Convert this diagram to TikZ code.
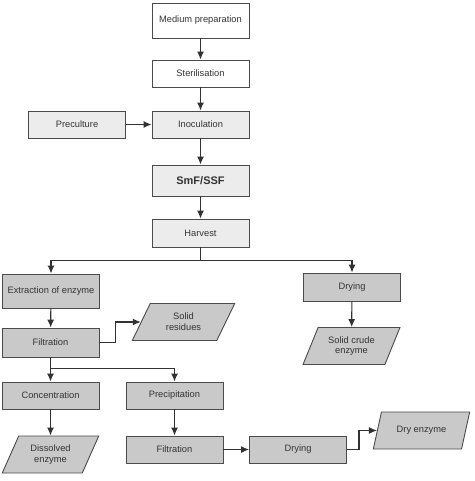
\documentclass[tikz,border=0pt]{standalone}
\usepackage{fontspec}
\setmainfont{Liberation Sans}
\usetikzlibrary{shapes.geometric,arrows.meta}
\definecolor{lightfill}{RGB}{236,236,236}
\definecolor{darkfill}{RGB}{201,201,201}
\definecolor{edgegray}{RGB}{50,50,50}
\definecolor{boxgray}{RGB}{75,75,75}
\tikzset{
  box/.style={draw=boxgray, line width=0.9pt, minimum width=97pt, minimum height=27pt,
    inner sep=1pt, align=center, text=black!80, font=\fontsize{9.3}{10.8}\selectfont},
  plainbox/.style={box, fill=white},
  lightbox/.style={box, fill=lightfill},
  darkbox/.style={box, fill=darkfill},
  databox/.style={box, fill=darkfill, trapezium, trapezium left angle=63,
    trapezium right angle=117, trapezium stretches=true, minimum height=37pt},
  arr/.style={draw=edgegray, line width=1.1pt, -{Latex[length=8pt,width=7pt]}}
}
\begin{document}
\begin{tikzpicture}[x=1pt,y=-1pt]
\useasboundingbox (0,0) rectangle (474,481);
% main column
\node[plainbox, minimum height=35pt] (medium) at (200.5,20.5) {Medium preparation};
\node[plainbox] (steril) at (200.5,73.5) {Sterilisation};
\node[lightbox] (inocul) at (200.5,124.5) {Inoculation};
\node[lightbox] (precult) at (77,124.5) {Preculture};
\node[lightbox, minimum height=31pt, font=\fontsize{11}{13}\selectfont\bfseries] (smf) at (200.5,180.5) {SmF/SSF};
\node[lightbox, minimum height=28pt] (harvest) at (200.5,233) {Harvest};
% left branch
\node[darkbox, minimum height=34pt] (extract) at (51,291) {Extraction of enzyme};
\node[darkbox, minimum height=29pt] (filtA) at (50.5,342.5) {Filtration};
\node[databox, minimum width=103pt] (residues) at (183.5,322) {Solid\\residues};
\node[darkbox] (concent) at (50.5,395.5) {Concentration};
\node[darkbox] (precip) at (174.5,395.5) {Precipitation};
\node[databox] (dissolved) at (50.5,454.5) {Dissolved\\enzyme};
\node[darkbox] (filtB) at (174.5,449.5) {Filtration};
\node[darkbox] (dryB) at (298,449.5) {Drying};
\node[databox] (dryenz) at (421.5,430.5) {Dry enzyme};
% right branch
\node[darkbox, minimum height=28pt] (dryA) at (352,287) {Drying};
\node[databox] (crude) at (351.5,346) {Solid crude\\enzyme};
% connectors
\draw[arr] (medium) -- (steril);
\draw[arr] (steril) -- (inocul);
\draw[arr] (precult) -- (inocul);
\draw[arr] (inocul) -- (smf);
\draw[arr] (smf) -- (harvest);
\draw[arr] (harvest.south) -- ++(0,13) -| (extract.north);
\draw[arr] (harvest.south) -- ++(0,13) -| (dryA.north);
\draw[arr] (extract) -- (filtA);
\draw[arr] (filtA.east) -- ++(16,0) |- (residues.west);
\draw[arr] (filtA.south) -- ++(0,11) -| (concent.north);
\draw[arr] (filtA.south) -- ++(0,11) -| (precip.north);
\draw[arr] (concent) -- (dissolved);
\draw[arr] (precip) -- (filtB);
\draw[arr] (filtB) -- (dryB);
\draw[arr] (dryB.east) -- ++(12,0) |- (dryenz.west);
\draw[arr] (dryA) -- (crude);
\end{tikzpicture}
\end{document}
